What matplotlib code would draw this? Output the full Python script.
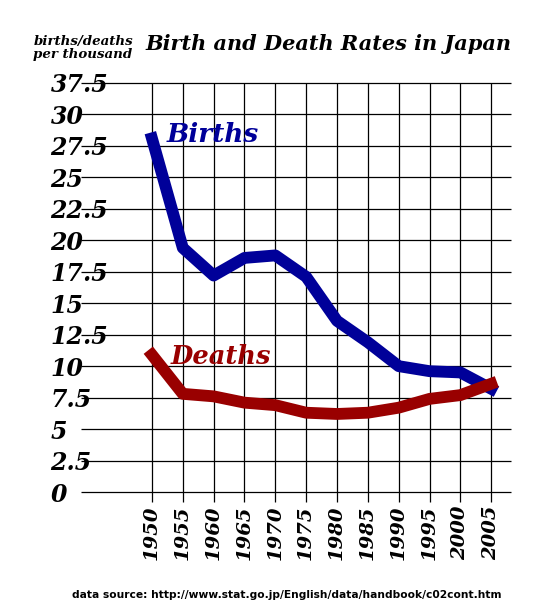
import numpy as np
import matplotlib.pyplot as plt

# data (per thousand)
years = [1950, 1955, 1960, 1965, 1970, 1975, 1980, 1985, 1990, 1995, 2000, 2005]
births = [28.1, 19.4, 17.2, 18.6, 18.8, 17.1, 13.6, 11.9, 10.0, 9.6, 9.5, 8.2]
deaths = [10.9, 7.8, 7.6, 7.1, 6.9, 6.3, 6.2, 6.3, 6.7, 7.4, 7.7, 8.6]

ytick_vals = [0, 2.5, 5, 7.5, 10, 12.5, 15, 17.5, 20, 22.5, 25, 27.5, 30, 32.5]
ytick_labels = ['0', '2.5', '5', '7.5', '10', '12.5', '15', '17.5', '20',
                '22.5', '25', '27.5', '30', '37.5']

serif = 'DejaVu Serif'
blue = '#000099'
red = '#990000'

fig = plt.figure(figsize=(5.6, 6.16), dpi=100)
W, H = 560, 616
ax = fig.add_axes([81 / W, (H - 492) / H, 430 / W, 409 / H])
ax.set_xlim(1938.5, 2008.2)
ax.set_ylim(0, 32.5)
for s in ax.spines.values():
    s.set_visible(False)

# grid
ax.hlines(ytick_vals, 1938.5, 2008.2, color='black', lw=0.9, zorder=1,
          clip_on=False)
ax.vlines(years, -0.8, 32.5, color='black', lw=0.9, zorder=1, clip_on=False)

ax.plot(years, births, color=blue, lw=8.5, solid_capstyle='projecting',
        solid_joinstyle='round', zorder=3)
ax.plot(years, deaths, color=red, lw=8.5, solid_capstyle='projecting',
        solid_joinstyle='round', zorder=3)

ax.set_yticks(ytick_vals)
ax.set_yticklabels(ytick_labels, fontfamily=serif, fontweight='bold',
                   fontstyle='italic', fontsize=17, ha='left')
ax.tick_params(axis='y', length=0, pad=22)

ax.set_xticks(years)
ax.set_xticklabels([str(y) for y in years], rotation=90, fontfamily=serif,
                   fontweight='bold', fontstyle='italic', fontsize=14)
ax.tick_params(axis='x', length=0, pad=10)

ax.text(1952.4, 27.8, 'Births', color=blue, fontfamily=serif,
        fontweight='bold', fontstyle='italic', fontsize=19, zorder=4)
ax.text(1953.1, 10.2, 'Deaths', color=red, fontfamily=serif,
        fontweight='bold', fontstyle='italic', fontsize=18.5, zorder=4)

fig.text(83 / W, 1 - 48 / H, 'births/deaths\nper thousand', ha='center',
         va='center', fontfamily=serif, fontweight='bold', fontstyle='italic',
         fontsize=9.6, linespacing=0.95)
fig.text(145 / W, 1 - 50 / H, 'Birth and Death Rates in Japan',
         ha='left', va='baseline', fontfamily=serif, fontweight='bold',
         fontstyle='italic', fontsize=15)
fig.text(287 / W, 1 - 595 / H,
         'data source: http://www.stat.go.jp/English/data/handbook/c02cont.htm',
         ha='center', va='center', fontfamily='DejaVu Sans', fontweight='bold',
         fontsize=7.7)

fig.savefig('out.png', dpi=100)
